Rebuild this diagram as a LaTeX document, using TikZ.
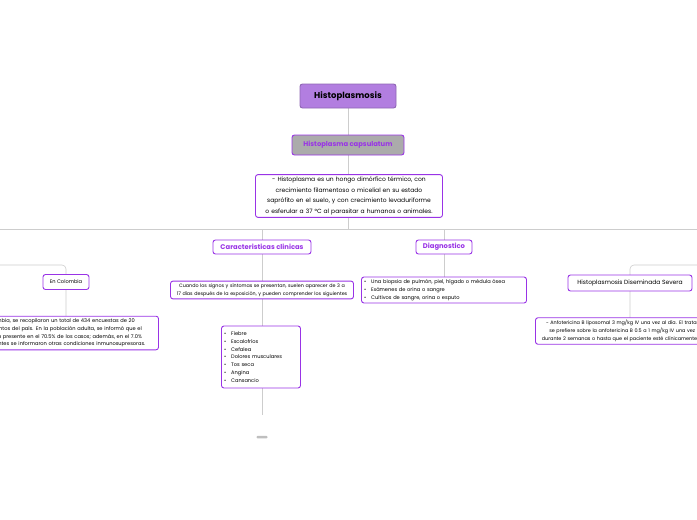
\documentclass[tikz,border=0pt]{standalone}
\usepackage{fontspec}
\setmainfont{Poppins}
\usepackage{xcolor}
\hyphenpenalty=10000
\exhyphenpenalty=10000
\begin{document}
\begin{tikzpicture}[x=1pt,y=-1pt,
  box/.style={draw=cborder,line width=0.9pt,rounded corners=2.5pt,fill=white,align=center,inner sep=2.5pt,text=black},
  head/.style={box,font=\bfseries\fontsize{6.8}{8}\selectfont,text=cborder},
  small/.style={box,font=\fontsize{5.1}{7.8}\selectfont},
  link/.style={draw=clink,line width=0.6pt,rounded corners=4pt}]
\definecolor{cborder}{RGB}{153,51,230}    %purple
\definecolor{croot}{RGB}{178,126,224}     %lilac
\definecolor{clink}{RGB}{205,205,205}     %gray
\useasboundingbox (0,0) rectangle (697,520);
% links
\draw[link] (0,229) -- (697,229);
\draw[link] (348,108) -- (348,229);
\draw[link] (262,229) -- (262,415);
\draw[link] (444,229) -- (444,290);
\draw[link] (0,265) -| (66,320);
\draw[link] (697,265) -| (630,320);
% nodes
\node[box,fill=croot,draw=croot!80!black,minimum width=96pt,minimum height=24pt,font=\bfseries\fontsize{8.5}{10}\selectfont] (root) at (348,96) {Histoplasmosis};
\node[head,fill=black!33,minimum width=112pt,minimum height=20pt] (caps) at (348,145) {Histoplasma capsulatum};
\node[box,font=\fontsize{6}{10.5}\selectfont,text width=182pt] (desc) at (349,196) {- Histoplasma es un hongo dimórfico térmico, con crecimiento filamentoso o micelial en su estado saprófito en el suelo, y con crecimiento levaduriforme o esferular a 37 °C al parasitar a humanos o animales.};
\node[head,minimum width=98pt,minimum height=14pt] (clin) at (262,247) {Caracteristicas clinicas};
\node[head,minimum width=56pt,minimum height=14pt] (diag) at (444,247) {Diagnostico};
\node[small,minimum width=46pt,minimum height=15pt] (col) at (66,282) {En Colombia};
\node[small,text width=200pt] (coltext) at (56,333) {En Colombia, se recopilaron un total de 434 encuestas de 20 departamentos del país.  En la población adulta, se informó que el SIDA estaba presente en el 70.5\% de los casos; además, en el 7.0\% de los pacientes se informaron otras condiciones inmunosupresoras.};
\node[small,font=\fontsize{4.8}{7.8}\selectfont,text width=178pt] (cuando) at (262,290) {Cuando los signos y síntomas se presentan, suelen aparecer de 3 a 17 días después de la exposición, y pueden comprender los siguientes};
\node[small,text width=74pt,align=left,minimum height=62pt] (sint) at (261,357) {\textbullet\quad Fiebre\\\textbullet\quad Escalofríos\\\textbullet\quad Cefalea\\\textbullet\quad Dolores musculares\\\textbullet\quad Tos seca\\\textbullet\quad Angina\\\textbullet\quad Cansancio};
\node[small,text width=160pt,align=left] (pruebas) at (444,290) {\textbullet\quad Una biopsia de pulmón, piel, hígado o médula ósea\\\textbullet\quad Exámenes de orina o sangre\\\textbullet\quad Cultivos de sangre, orina o esputo};
\node[small,font=\fontsize{6}{7}\selectfont,minimum width=124pt,minimum height=16pt] (disem) at (630,283) {Histoplasmosis Diseminada Severa};
\node[small,font=\fontsize{4.9}{7.8}\selectfont,text width=184pt] (anfo) at (630,331) {- Anfotericina B liposomal 3 mg/kg IV una vez al día. El tratamiento se prefiere sobre la anfotericina B 0.5 a 1 mg/kg IV una vez al día durante 2 semanas o hasta que el paciente esté clínicamente estable.};
\node[fill=black!25,rounded corners=1pt,minimum width=11pt,minimum height=2.5pt,inner sep=0pt] (fold) at (262,437) {};
\end{tikzpicture}
\end{document}
